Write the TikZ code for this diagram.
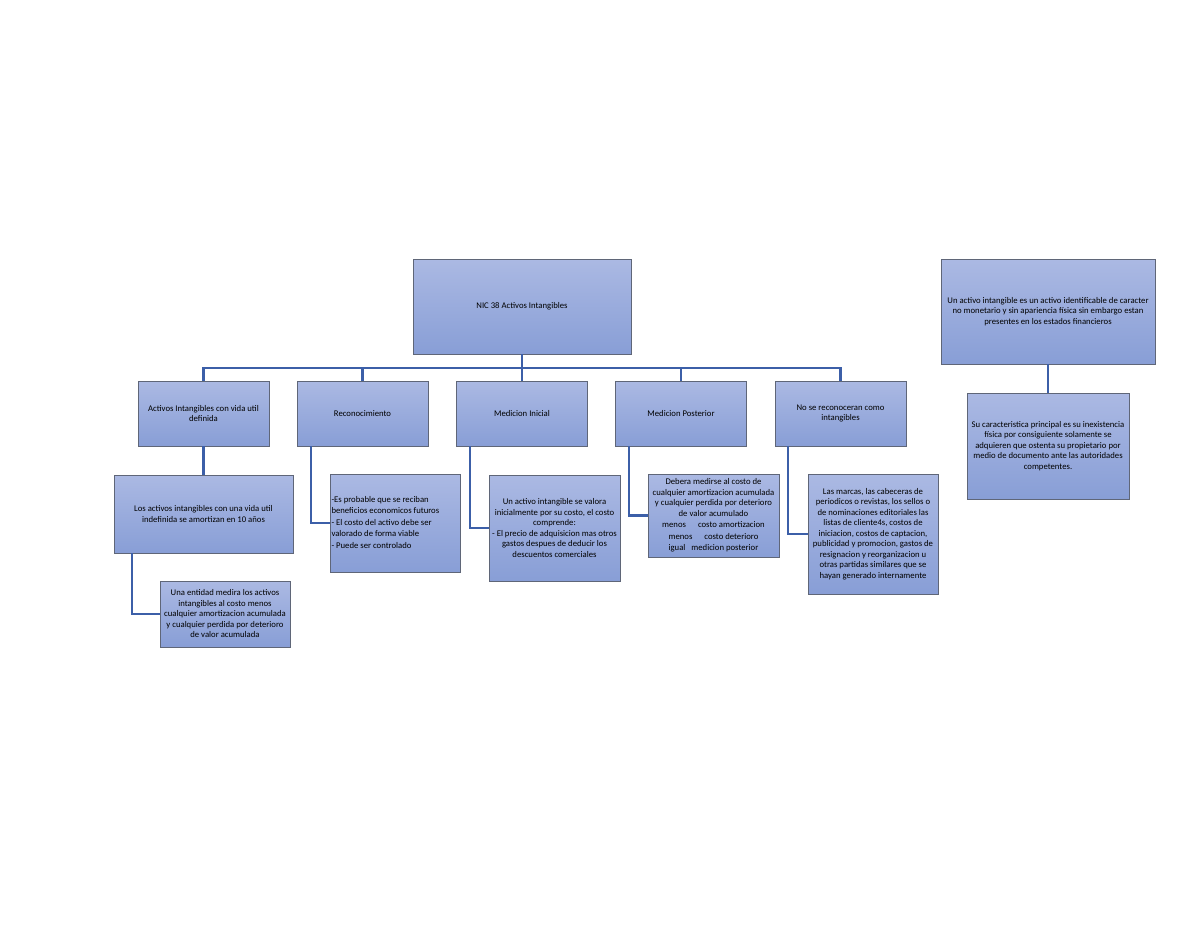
\documentclass[tikz,border=0pt]{standalone}
\usepackage{fontspec}
\setmainfont{Carlito}
\begin{document}
\begin{tikzpicture}[x=1pt,y=-1pt,
  box/.style={draw=boxline, line width=0.9pt, top color=boxtop, bottom color=boxbot,
    inner sep=1pt, align=center, font=\fontsize{8.7}{10.5}\selectfont, text=black},
  conn/.style={draw=connblue, line width=2.2pt}]
\definecolor{boxtop}{HTML}{ABB9E3}
\definecolor{boxbot}{HTML}{889ED6}
\definecolor{boxline}{HTML}{5F6678}
\definecolor{connblue}{HTML}{3C5FA8}
\useasboundingbox (0,0) rectangle (1200,927);
\fill[white] (0,0) rectangle (1200,927);
\newcommand{\bx}[5]{\node[box, minimum width=#3, minimum height=#4] (#1) at #2 {#5};}
\coordinate (bus) at (522,368);
% top
\bx{top}{(522,306.5)}{218pt}{95pt}{NIC 38 Activos Intangibles}
% level 1
\bx{a}{(203.5,413.5)}{131pt}{65pt}{Activos Intangibles con vida util\\ definida}
\bx{b}{(362.5,413.5)}{131pt}{65pt}{Reconocimiento}
\bx{c}{(522,413.5)}{131pt}{65pt}{Medicion Inicial}
\bx{d}{(681,413.5)}{131pt}{65pt}{Medicion Posterior}
\bx{e}{(840.5,413.5)}{131pt}{65pt}{No se reconoceran como\\ intangibles}
% children
\bx{a1}{(203.5,514)}{179pt}{78pt}{Los activos intangibles con una vida util\\ indefinida se amortizan en 10 años}
\bx{a2}{(225,614)}{130pt}{66pt}{Una entidad medira los activos\\ intangibles al costo menos\\ cualquier amortizacion acumulada\\ y cualquier perdida por deterioro\\ de valor acumulada}
\node[box, minimum width=130pt, minimum height=98pt, text width=127pt, align=flush left] (b1) at (395,523)
  {-Es probable que se reciban\\ beneficios economicos futuros\\[2pt] - El costo del activo debe ser\\ valorado de forma viable\\[2pt] - Puede ser controlado};
\bx{c1}{(554.5,528)}{131pt}{106pt}{Un activo intangible se valora\\ inicialmente por su costo, el costo\\ comprende:\\ - El precio de adquisicion mas otros\\ gastos despues de deducir los\\ descuentos comerciales}
\bx{d1}{(713.5,515.5)}{131pt}{83pt}{Debera medirse al costo de\\ cualquier amortizacion acumulada\\ y cualquier perdida por deterioro\\ de valor acumulado\\[1pt] menos\hspace{12pt}costo amortizacion\\[1pt] menos\hspace{12pt}costo deterioro\\[1pt] igual\hspace{6pt}medicion posterior}
\bx{e1}{(873,534)}{130pt}{120pt}{Las marcas, las cabeceras de\\ periodicos o revistas, los sellos o\\ de nominaciones editoriales las\\ listas de cliente4s, costos de\\ iniciacion, costos de captacion,\\ publicidad y promocion, gastos de\\ resignacion y reorganizacion u\\ otras partidas similares que se\\ hayan generado internamente}
\bx{r1}{(1048,311.5)}{214pt}{105pt}{Un activo intangible es un activo identificable de caracter\\ no monetario y sin apariencia física sin embargo estan\\ presentes en los estados financieros}
\bx{r2}{(1048,446)}{162pt}{106pt}{Su caracteristica principal es su inexistencia\\ física por consiguiente solamente se\\ adquieren que ostenta su propietario por\\ medio de documento ante las autoridades\\ competentes.}
% connectors
\draw[conn] (top.south) -- (bus);
\draw[conn] (a.north) |- (bus) -| (e.north);
\draw[conn] (b.north) -- (b.north |- bus);
\draw[conn] (c.north) -- (c.north |- bus);
\draw[conn] (d.north) -- (d.north |- bus);
\draw[conn] (a.south) -- (a1.north);
\draw[conn] ([xshift=-71.5pt]a1.south) |- (a2.west);
\draw[conn] ([xshift=-51.5pt]b.south) |- (b1.west);
\draw[conn] ([xshift=-52pt]c.south) |- (c1.west);
\draw[conn] ([xshift=-52pt]d.south) |- (d1.west);
\draw[conn] ([xshift=-52.5pt]e.south) |- (e1.west);
\draw[conn] (r1.south) -- (r2.north);
\end{tikzpicture}
\end{document}
